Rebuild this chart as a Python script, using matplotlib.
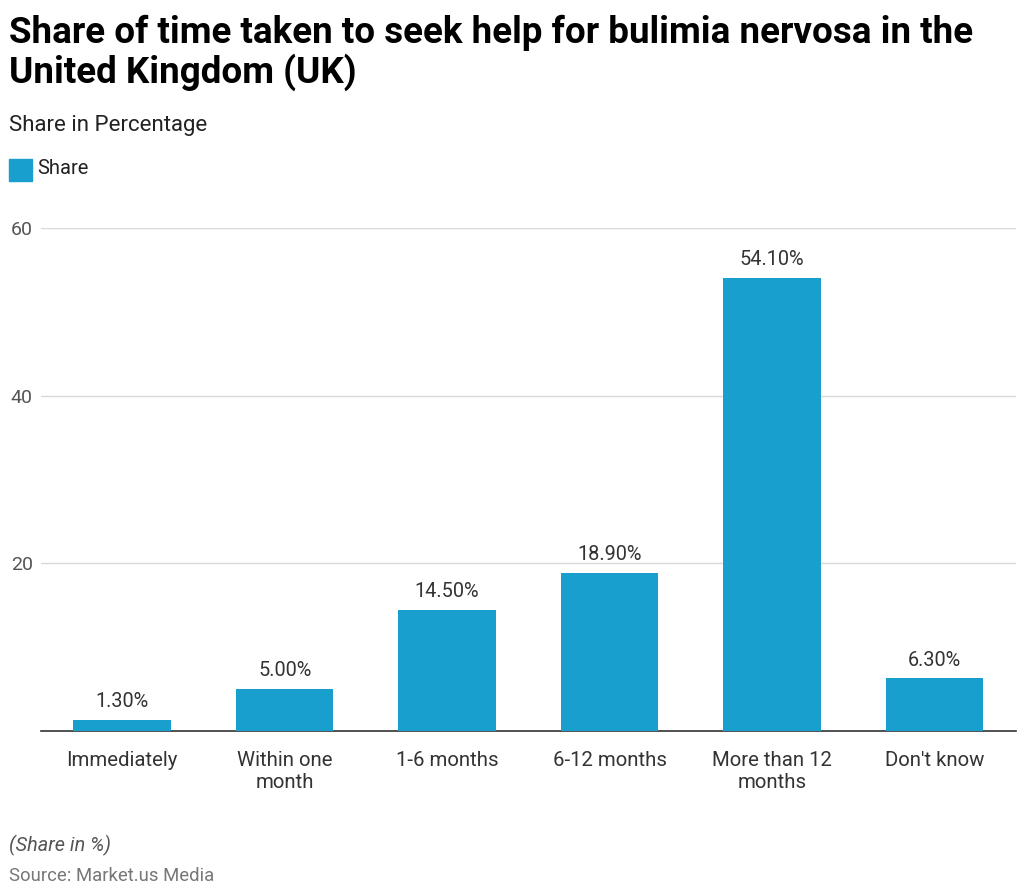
import matplotlib.pyplot as plt
from matplotlib.patches import Rectangle

plt.rcParams['font.family'] = ['Roboto', 'DejaVu Sans']

categories = ["Immediately", "Within one\nmonth", "1-6 months", "6-12 months",
              "More than 12\nmonths", "Don't know"]
shares = [1.3, 5.0, 14.5, 18.9, 54.1, 6.3]
y_ticks = [20, 40, 60]

bar_color = "#189fcd"

fig = plt.figure(figsize=(10.24, 8.96), dpi=100)
ax = fig.add_axes([0.040, 0.184, 0.952, 0.5615])

x = list(range(len(categories)))
ax.bar(x, shares, width=0.6, color=bar_color, zorder=3)
for xi, v in zip(x, shares):
    ax.text(xi, v + 1.05, f"{v:.2f}%", ha="center", va="bottom",
            fontsize=14.3, color="#333333")

ax.set_xlim(-0.5, len(categories) - 0.5)
ax.set_ylim(0, 60)
ax.set_yticks(y_ticks)
ax.set_yticklabels([str(t) for t in y_ticks])
ax.grid(axis="y", color="#d9d9d9", linewidth=1, zorder=0)
ax.set_xticks(x)
ax.set_xticklabels(categories, fontsize=14.7, color="#333333", linespacing=1.25)
for s in ["top", "right", "left"]:
    ax.spines[s].set_visible(False)
ax.spines["bottom"].set_color("#333333")
ax.spines["bottom"].set_linewidth(1.2)
ax.tick_params(axis="x", length=0, pad=14)
ax.tick_params(axis="y", length=0, labelsize=14, labelcolor="#555555", pad=0)
for lbl in ax.get_yticklabels():
    lbl.set_horizontalalignment("left")
    lbl.set_x(-0.031)

fig.text(0.009, 0.984, "Share of time taken to seek help for bulimia nervosa in the\nUnited Kingdom (UK)",
         fontsize=26.5, fontweight="bold", va="top", ha="left", linespacing=1.08)
fig.text(0.009, 0.860, "Share in Percentage", fontsize=16, va="center", ha="left", color="#222222")
fig.patches.append(Rectangle((0.009, 0.798), 0.022, 0.025, transform=fig.transFigure,
                             color=bar_color))
fig.text(0.036, 0.812, "Share", fontsize=14.5, va="center", ha="left", color="#222222")
fig.text(0.009, 0.056, "(Share in %)", fontsize=14.3, style="italic", va="center", ha="left", color="#555555")
fig.text(0.009, 0.022, "Source: Market.us Media", fontsize=13.3, va="center", ha="left", color="#777777")

fig.savefig("out.png", dpi=100)
